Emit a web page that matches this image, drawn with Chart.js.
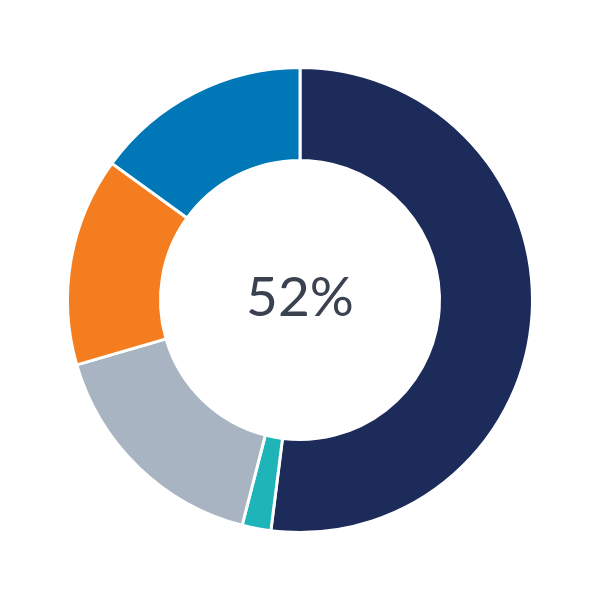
<!DOCTYPE html>
<html>
<head>
<meta charset="utf-8">
<script src="https://cdn.jsdelivr.net/npm/chart.js@4"></script>
<style>
  html, body { margin: 0; padding: 0; background: #fff; }
  #wrap { width: 600px; height: 600px; position: relative; }
</style>
</head>
<body>
<div id="wrap"><canvas id="donutChart" width="600" height="600"></canvas></div>
<script>
// Segment values, clockwise from 12 o'clock
const labels = ['A', 'B', 'C', 'D', 'E'];
const values = [52, 2, 16.5, 14.5, 15];
const colors = ['#1c2b5a', '#1fb5b8', '#a9b4c3', '#f47d20', '#0077b6'];
const centerText = '52%';

// Draws the big percentage in the hole
const centerLabel = {
    id: 'centerLabel',
    afterDraw(chart) {
        const meta = chart.getDatasetMeta(0);
        if (!meta.data.length) return;
        const arc = meta.data[0];
        const ctx = chart.ctx;
        ctx.save();
        ctx.fillStyle = '#3a4250';
        ctx.font = '400 55px Lato, "Open Sans", sans-serif';
        ctx.textAlign = 'center';
        ctx.textBaseline = 'middle';
        ctx.fillText(centerText, arc.x, arc.y - 2);
        ctx.restore();
    }
};

const ctx = document.getElementById('donutChart').getContext('2d');
window.myChart = new Chart(ctx, {
    type: 'doughnut',
    data: {
        labels: labels,
        datasets: [{
            data: values,
            backgroundColor: colors,
            borderColor: '#ffffff',
            borderWidth: 3
        }]
    },
    options: {
        responsive: false,
        animation: false,
        cutout: '60%',
        layout: { padding: 66 },
        plugins: {
            legend: { display: false },
            tooltip: { enabled: false }
        }
    },
    plugins: [centerLabel]
});
</script>
</body>
</html>
